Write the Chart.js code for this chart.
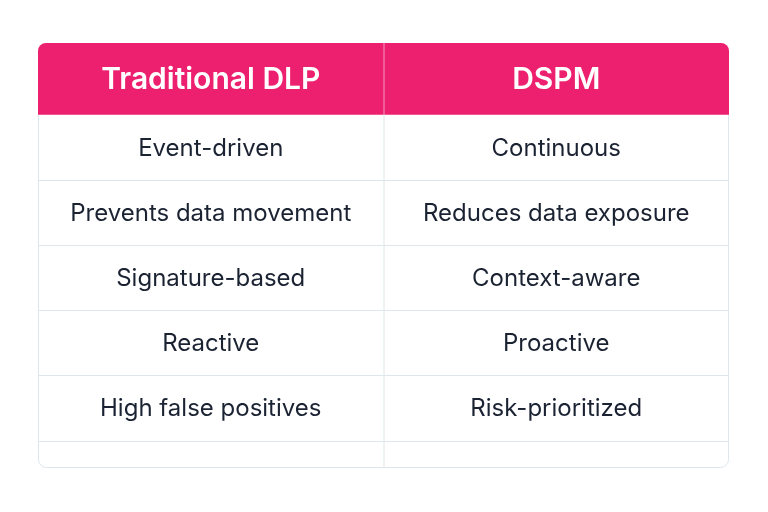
<!DOCTYPE html>
<html>
<head>
<meta charset="utf-8">
<script src="https://cdn.jsdelivr.net/npm/chart.js@4"></script>
<style>
  html, body { margin: 0; padding: 0; background: #fff; }
  #wrap { width: 768px; height: 512px; }
</style>
</head>
<body>
<div id="wrap"><canvas id="table"></canvas></div>
<script>
const columns = ['Traditional DLP', 'DSPM'];
const dlpRows = ['Event-driven', 'Prevents data movement', 'Signature-based', 'Reactive', 'High false positives'];
const dspmRows = ['Continuous', 'Reduces data exposure', 'Context-aware', 'Proactive', 'Risk-prioritized'];

const PINK = '#ed1f6f';
const LINE = '#dde6ea';
const TEXT = '#1b2333';
const HEADER_H = 1.1;   // header height in row units
const TAIL_H = 0.42;    // empty row at the bottom
const totalH = HEADER_H + dlpRows.length + TAIL_H;

function roundTop(ctx, x, y, w, h, r) {
    ctx.beginPath();
    ctx.moveTo(x, y + h);
    ctx.lineTo(x, y + r);
    ctx.arcTo(x, y, x + r, y, r);
    ctx.lineTo(x + w - r, y);
    ctx.arcTo(x + w, y, x + w, y + r, r);
    ctx.lineTo(x + w, y + h);
    ctx.closePath();
}

const tablePlugin = {
    id: 'tablePlugin',
    afterDraw(chart) {
        const ctx = chart.ctx;
        const xs = chart.scales.x, ys = chart.scales.y;
        const left = xs.getPixelForValue(0), right = xs.getPixelForValue(2);
        const mid = xs.getPixelForValue(1);
        const top = ys.getPixelForValue(0), bottom = ys.getPixelForValue(totalH);
        const headBottom = ys.getPixelForValue(HEADER_H);
        ctx.save();
        // outer frame
        ctx.strokeStyle = LINE;
        ctx.lineWidth = 1;
        ctx.beginPath();
        ctx.roundRect(left + 0.5, top + 0.5, right - left - 1, bottom - top - 1, 8);
        ctx.stroke();
        // header
        ctx.fillStyle = PINK;
        roundTop(ctx, left, top, right - left, headBottom - top, 8);
        ctx.fill();
        ctx.strokeStyle = 'rgba(255,255,255,0.55)';
        ctx.beginPath();
        ctx.moveTo(mid + 0.5, top);
        ctx.lineTo(mid + 0.5, headBottom);
        ctx.stroke();
        // body lines
        ctx.strokeStyle = LINE;
        ctx.beginPath();
        ctx.moveTo(mid + 0.5, headBottom);
        ctx.lineTo(mid + 0.5, bottom);
        for (let i = 1; i <= dlpRows.length; i++) {
            const y = Math.round(ys.getPixelForValue(HEADER_H + i)) + 0.5;
            ctx.moveTo(left, y);
            ctx.lineTo(right, y);
        }
        ctx.stroke();
        // texts
        ctx.textAlign = 'center';
        ctx.textBaseline = 'middle';
        ctx.fillStyle = '#fff';
        ctx.font = '600 30px Inter, "Noto Sans", sans-serif';
        columns.forEach((c, j) => {
            ctx.fillText(c, xs.getPixelForValue(j + 0.5), ys.getPixelForValue(HEADER_H / 2) + 1);
        });
        ctx.fillStyle = TEXT;
        ctx.font = '400 24px Inter, "Noto Sans", sans-serif';
        [dlpRows, dspmRows].forEach((rows, j) => {
            rows.forEach((r, i) => {
                ctx.fillText(r, xs.getPixelForValue(j + 0.5), ys.getPixelForValue(HEADER_H + i + 0.5) + 1);
            });
        });
        ctx.restore();
    }
};

new Chart(document.getElementById('table'), {
    type: 'scatter',
    data: { datasets: [{ data: [] }] },
    options: {
        responsive: true,
        maintainAspectRatio: false,
        animation: false,
        layout: { padding: { left: 38, right: 39, top: 43, bottom: 44 } },
        plugins: { legend: { display: false }, tooltip: { enabled: false } },
        scales: {
            x: { type: 'linear', min: 0, max: 2, display: false },
            y: { type: 'linear', min: 0, max: totalH, reverse: true, display: false }
        }
    },
    plugins: [tablePlugin]
});
</script>
</body>
</html>
